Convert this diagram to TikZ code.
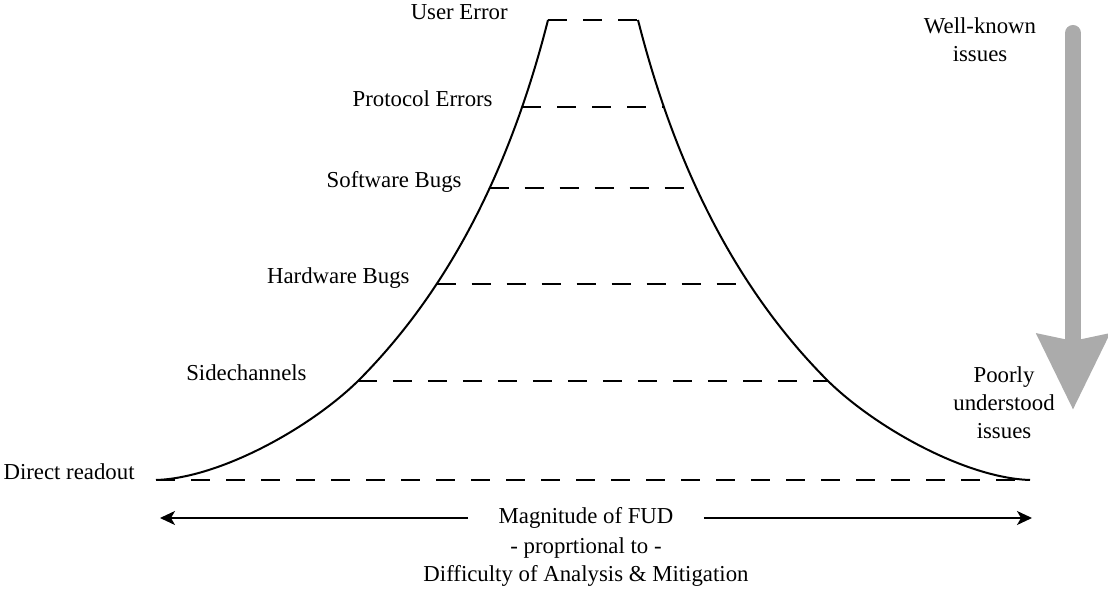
\documentclass[tikz,border=0pt]{standalone}
\usepackage{fontspec}
\setmainfont{Liberation Serif}
\usetikzlibrary{positioning, arrows.meta, intersections}
\definecolor{fudgray}{HTML}{ABABAB}

\begin{document}
\begin{tikzpicture}[x=0.5pt, y=-0.5pt, font=\fontsize{11.4}{14}\selectfont,
    slope/.style={line width=1pt},
    level/.style={line width=1.3pt, dash pattern=on 9.5pt off 8pt},
    levellabel/.style={anchor=base east, inner sep=0pt},
    fudarrow/.style={line width=0.8pt, -{Stealth[length=7.5pt, width=7pt, inset=2pt]}}]
    \useasboundingbox (0,0) rectangle (1108,592);

    % flanks of the mountain
    \draw[slope, name path=leftFlank] (156,480) .. controls (220,478) and (310,428) .. (358,381) .. controls (448,291) and (510,170) .. (548,20);
    \draw[slope, name path=rightFlank] (1030,480) .. controls (966,478) and (876,428) .. (828,381) .. controls (738,291) and (676,170) .. (638,20);

    % levels
    \coordinate (Luser) at (548,20);
    \coordinate (Ruser) at (638,20);
    \coordinate (Ldirect) at (156,480);
    \coordinate (Rdirect) at (1030,480);
    \foreach \y/\name in {107/proto, 188/soft, 284/hard, 381/side} {
        \path[name path=cut\name] (0,\y) -- (1108,\y);
        \path[name intersections={of=leftFlank and cut\name, by=L\name}];
        \path[name intersections={of=rightFlank and cut\name, by=R\name}];
    }
    \foreach \y/\lx/\name/\txt in {20/508/user/User Error, 107/493/proto/Protocol Errors, 188/462/soft/Software Bugs, 284/410/hard/Hardware Bugs, 381/307/side/Sidechannels, 480/135/direct/Direct readout} {
        \draw[level] (L\name) -- (R\name);
        \node[levellabel] (lab\name) at (\lx,\y) {\txt};
    }

    \node[align=center] (wellKnown) at (980,40) {Well-known\\issues};
    \node[align=center] (poorlyKnown) at (1004,403) {Poorly\\understood\\issues};
    \coordinate (grayTop) at (1073,33);
    \coordinate (grayTip) at (1073,410);
    \draw[line width=8pt, fudgray, line cap=round, -{Stealth[length=37.5pt, width=35pt, inset=3pt]}] (grayTop) -- (grayTip);

    \node[inner xsep=15pt, inner ysep=0pt] (fudTop) at (586,518) {Magnitude of FUD};
    \node[below = 4pt of fudTop, align=center, inner sep=0pt] (fudSub) {- proprtional to -\\Difficulty of Analysis \& Mitigation};
    \coordinate (fudLeft) at (160,518);
    \coordinate (fudRight) at (1032,518);
    \draw[fudarrow] (fudTop.west) -- (fudLeft);
    \draw[fudarrow] (fudTop.east) -- (fudRight);
\end{tikzpicture}
\end{document}
